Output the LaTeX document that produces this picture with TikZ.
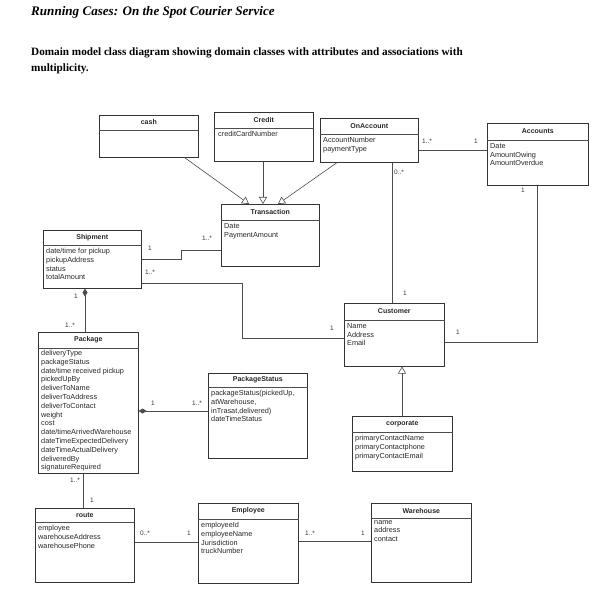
\documentclass[tikz,border=0pt]{standalone}
\usepackage{fontspec}
\setmainfont{Liberation Serif}
\setsansfont{Liberation Sans}
\usetikzlibrary{arrows.meta,positioning}

\begin{document}
\begin{tikzpicture}[x=1pt,y=-1pt,
	clase/.style={draw=black!80, line width=0.6pt, anchor=north west, inner sep=0pt},
	titulo/.style={font=\sffamily\bfseries\fontsize{7}{8}\selectfont, inner sep=0pt, text=black!85},
	atributos/.style={font=\sffamily\fontsize{7.3}{8.8}\selectfont, align=left, anchor=north west, inner sep=0pt, text=black!85},
	mult/.style={font=\sffamily\fontsize{6.5}{7}\selectfont, inner sep=0pt, text=black!80},
	linea/.style={draw=black!70, line width=0.6pt},
	herencia/.style={linea, -{Triangle[open, length=7pt, width=8pt]}},
	composicion/.style={linea, {Diamond[length=8pt, width=5pt]}-}]
		
		% Marco de la figura completa
		\useasboundingbox (0,0) rectangle (599,609);
		
		% Titulos del caso
		\node[anchor=west, inner sep=0pt, font=\bfseries\itshape\fontsize{13.1}{15}\selectfont] (titulo) at (31,12) {Running Cases: On the Spot Courier Service};
		\node[anchor=north west, inner sep=0pt, align=left, font=\bfseries\fontsize{11.2}{16}\selectfont] (subtitulo) at (31,48) {Domain model class diagram showing domain classes with attributes and associations with\\multiplicity.};
		
		% Formas de pago (cash, Credit, OnAccount)
		\node[clase, minimum width=99pt, minimum height=42pt] (cash) at (99,115) {};
		\draw[linea] ([yshift=-15pt]cash.north west) -- ([yshift=-15pt]cash.north east);
		\node[titulo] (cashT) at ([yshift=-7.5pt]cash.north) {cash};
		
		\node[clase, minimum width=99pt, minimum height=49pt] (credit) at (214,112) {};
		\draw[linea] ([yshift=-16pt]credit.north west) -- ([yshift=-16pt]credit.north east);
		\node[titulo] (creditT) at ([yshift=-8pt]credit.north) {Credit};
		\node[atributos] (creditA) at ([xshift=4pt,yshift=-19pt]credit.north west) {creditCardNumber};
		
		\node[clase, minimum width=98pt, minimum height=44pt] (onacc) at (320,118) {};
		\draw[linea] ([yshift=-16pt]onacc.north west) -- ([yshift=-16pt]onacc.north east);
		\node[titulo] (onaccT) at ([yshift=-8pt]onacc.north) {OnAccount};
		\node[atributos] (onaccA) at ([xshift=3pt,yshift=-19pt]onacc.north west) {AccountNumber\\paymentType};
		
		% Cuentas
		\node[clase, minimum width=101pt, minimum height=62pt] (accounts) at (487,123) {};
		\draw[linea] ([yshift=-17pt]accounts.north west) -- ([yshift=-17pt]accounts.north east);
		\node[titulo] (accountsT) at ([yshift=-8.5pt]accounts.north) {Accounts};
		\node[atributos] (accountsA) at ([xshift=3pt,yshift=-20pt]accounts.north west) {Date\\AmountOwing\\AmountOverdue};
		
		% Transaccion
		\node[clase, minimum width=98pt, minimum height=62pt] (trans) at (221,204) {};
		\draw[linea] ([yshift=-16pt]trans.north west) -- ([yshift=-16pt]trans.north east);
		\node[titulo] (transT) at ([yshift=-8pt]trans.north) {Transaction};
		\node[atributos] (transA) at ([xshift=3pt,yshift=-19pt]trans.north west) {Date\\PaymentAmount};
		
		% Envio
		\node[clase, minimum width=98pt, minimum height=58pt] (ship) at (43,230) {};
		\draw[linea] ([yshift=-15pt]ship.north west) -- ([yshift=-15pt]ship.north east);
		\node[titulo] (shipT) at ([yshift=-7.5pt]ship.north) {Shipment};
		\node[atributos] (shipA) at ([xshift=3pt,yshift=-18pt]ship.north west) {date/time for pickup\\pickupAddress\\status\\totalAmount};
		
		% Cliente
		\node[clase, minimum width=100pt, minimum height=63pt] (cust) at (344,303) {};
		\draw[linea] ([yshift=-17pt]cust.north west) -- ([yshift=-17pt]cust.north east);
		\node[titulo] (custT) at ([yshift=-8.5pt]cust.north) {Customer};
		\node[atributos] (custA) at ([xshift=3pt,yshift=-20pt]cust.north west) {Name\\Address\\Email};
		
		% Paquete
		\node[clase, minimum width=100pt, minimum height=141pt] (pkg) at (38,332) {};
		\draw[linea] ([yshift=-16pt]pkg.north west) -- ([yshift=-16pt]pkg.north east);
		\node[titulo] (pkgT) at ([yshift=-8pt]pkg.north) {Package};
		\node[atributos] (pkgA) at ([xshift=3pt,yshift=-18pt]pkg.north west) {deliveryType\\packageStatus\\date/time received pickup\\pickedUpBy\\deliverToName\\deliverToAddress\\deliverToContact\\weight\\cost\\date/timeArrivedWarehouse\\dateTimeExpectedDelivery\\dateTimeActualDelivery\\deliveredBy\\signatureRequired};
		
		% Estado del paquete
		\node[clase, minimum width=99pt, minimum height=85pt] (pstatus) at (208,373) {};
		\draw[linea] ([yshift=-14pt]pstatus.north west) -- ([yshift=-14pt]pstatus.north east);
		\node[titulo] (pstatusT) at ([yshift=-7pt]pstatus.north) {PackageStatus};
		\node[atributos] (pstatusA) at ([xshift=3pt,yshift=-17pt]pstatus.north west) {packageStatus(pickedUp,\\atWarehouse,\\inTrasat,delivered)\\dateTimeStatus};
		
		% Cliente corporativo
		\node[clase, minimum width=100pt, minimum height=55pt] (corp) at (352,416) {};
		\draw[linea] ([yshift=-16pt]corp.north west) -- ([yshift=-16pt]corp.north east);
		\node[titulo] (corpT) at ([yshift=-8pt]corp.north) {corporate};
		\node[atributos] (corpA) at ([xshift=3pt,yshift=-19pt]corp.north west) {primaryContactName\\primaryContactphone\\primaryContactEmail};
		
		% Ruta, empleado y almacen
		\node[clase, minimum width=99pt, minimum height=74pt] (route) at (35,508) {};
		\draw[linea] ([yshift=-14pt]route.north west) -- ([yshift=-14pt]route.north east);
		\node[titulo] (routeT) at ([yshift=-7pt]route.north) {route};
		\node[atributos] (routeA) at ([xshift=3pt,yshift=-17pt]route.north west) {employee\\warehouseAddress\\warehousePhone};
		
		\node[clase, minimum width=100pt, minimum height=80pt] (emp) at (198,503) {};
		\draw[linea] ([yshift=-16pt]emp.north west) -- ([yshift=-16pt]emp.north east);
		\node[titulo] (empT) at ([yshift=-8pt]emp.north) {Employee};
		\node[atributos] (empA) at ([xshift=3pt,yshift=-19pt]emp.north west) {employeeId\\employeeName\\Jurisdiction\\truckNumber};
		
		\node[clase, minimum width=100pt, minimum height=79pt] (wh) at (371,503) {};
		\draw[linea] ([yshift=-15pt]wh.north west) -- ([yshift=-15pt]wh.north east);
		\node[titulo] (whT) at ([yshift=-7.5pt]wh.north) {Warehouse};
		\node[atributos] (whA) at ([xshift=3pt,yshift=-17pt]wh.north west) {name\\address\\contact};
		
		% Herencia hacia Transaction y Customer
		\draw[herencia] ([xshift=-14pt]cash.south east) -- ([xshift=28pt]trans.north west);
		\draw[herencia] ([xshift=49pt]credit.south west) -- ([xshift=42pt]trans.north west);
		\draw[herencia] ([xshift=17pt]onacc.south west) -- ([xshift=57pt]trans.north west);
		\draw[herencia] ([xshift=50pt]corp.north west) -- ([xshift=58pt]cust.south west);
		
		% Asociaciones
		\draw[linea] ([yshift=-32pt]onacc.north east) -- ([yshift=-27pt]accounts.north west);
		\draw[linea] ([xshift=72pt]onacc.south west) -- ([xshift=48pt]cust.north west);
		\draw[linea] ([xshift=50pt]accounts.south west) |- ([yshift=-39pt]cust.north east);
		\draw[linea] ([yshift=-29pt]ship.north east) -- ++(40,0) |- ([yshift=-46pt]trans.north west);
		\draw[linea] ([yshift=-53pt]ship.north east) -- ++(101,0) |- ([yshift=-35pt]cust.north west);
		\draw[linea] ([xshift=45pt]pkg.south west) -- ([xshift=48pt]route.north west);
		\draw[linea] ([yshift=-34pt]route.north east) -- ([yshift=-39pt]emp.north west);
		\draw[linea] ([yshift=-38pt]emp.north east) -- ([yshift=-38pt]wh.north west);
		
		% Composiciones (rombo negro)
		\draw[composicion] ([xshift=42pt]ship.south west) -- ([xshift=47pt]pkg.north west);
		\draw[composicion] ([yshift=-79pt]pkg.north east) -- ([yshift=-38pt]pstatus.north west);
		
		% Multiplicidades
		\node[mult] (m1) at (427,141) {1..*};
		\node[mult] (m2) at (476,141) {1};
		\node[mult] (m3) at (399,172) {0..*};
		\node[mult] (m4) at (523,190) {1};
		\node[mult] (m5) at (405,293) {1};
		\node[mult] (m6) at (332,328) {1};
		\node[mult] (m7) at (458,332) {1};
		\node[mult] (m8) at (150,248) {1};
		\node[mult] (m9) at (207,238) {1..*};
		\node[mult] (m10) at (150,272) {1..*};
		\node[mult] (m11) at (76,296) {1};
		\node[mult] (m12) at (70,325) {1..*};
		\node[mult] (m13) at (153,403) {1};
		\node[mult] (m14) at (197,403) {1..*};
		\node[mult] (m15) at (75,480) {1..*};
		\node[mult] (m16) at (92,500) {1};
		\node[mult] (m17) at (145,533) {0..*};
		\node[mult] (m18) at (189,533) {1};
		\node[mult] (m19) at (310,533) {1..*};
		\node[mult] (m20) at (363,533) {1};
		
	\end{tikzpicture}
\end{document}
